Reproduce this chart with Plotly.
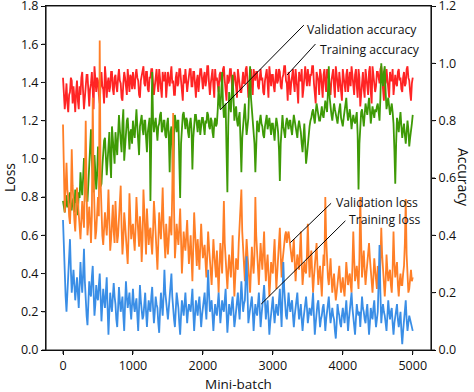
import plotly.graph_objects as go

# Mini-batch index (every 12.5 mini-batches, 401 samples)
mini_batch = [i * 12.5 for i in range(401)]

training_accuracy = [
    0.95, 0.90, 0.84, 0.88, 0.93, 0.86, 0.83, 0.89, 0.90, 0.95, 0.94, 0.86, 0.92, 0.88, 0.83, 0.90, 0.94, 0.87, 0.84, 0.92,
    0.89, 0.95, 0.97, 0.90, 0.84, 0.88, 0.92, 0.96, 0.96, 0.89, 0.85, 0.91, 0.93, 0.97, 0.88, 0.84, 0.99, 0.93, 0.90, 0.95,
    0.94, 0.89, 0.86, 0.93, 0.97, 0.92, 0.91, 0.86, 0.99, 0.95, 0.88, 0.93, 0.95, 0.90, 0.92, 0.97, 0.97, 0.91, 0.89, 0.95,
    0.96, 0.92, 0.90, 0.95, 0.98, 0.94, 0.93, 0.88, 0.87, 0.93, 0.97, 0.95, 0.92, 0.89, 0.98, 0.94, 0.90, 0.96, 0.95, 0.91,
    0.97, 0.93, 0.91, 0.96, 0.98, 0.95, 0.94, 0.89, 0.88, 0.94, 0.96, 0.98, 0.99, 0.93, 0.92, 0.97, 0.97, 0.91, 0.90, 0.95,
    0.95, 0.98, 0.98, 0.93, 0.89, 0.92, 0.96, 0.98, 0.93, 0.90, 0.98, 0.95, 0.91, 0.88, 0.97, 0.94, 0.94, 0.97, 0.88, 0.92,
    0.97, 0.94, 0.92, 0.96, 0.99, 0.93, 0.94, 0.89, 0.89, 0.95, 0.97, 0.92, 0.93, 0.98, 0.98, 0.94, 0.91, 0.87, 0.96, 0.93,
    0.98, 0.94, 0.90, 0.93, 0.95, 0.98, 0.98, 0.92, 0.92, 0.97, 0.97, 0.91, 0.88, 0.94, 0.96, 0.90, 0.93, 0.98, 0.98, 0.94,
    0.91, 0.95, 0.97, 0.92, 0.94, 0.99, 0.99, 0.93, 0.89, 0.93, 0.96, 0.98, 0.92, 0.88, 0.98, 0.94, 0.95, 0.91, 0.90, 0.96,
    0.97, 0.94, 0.93, 0.98, 0.99, 0.94, 0.91, 0.87, 0.96, 0.93, 0.94, 0.98, 0.98, 0.92, 0.89, 0.94, 0.97, 0.95, 0.92, 0.88,
    0.98, 0.95, 0.94, 0.90, 0.90, 0.95, 0.97, 0.93, 0.93, 0.98, 0.99, 0.94, 0.88, 0.91, 0.96, 0.98, 0.92, 0.89, 0.98, 0.95,
    0.94, 0.97, 0.97, 0.92, 0.91, 0.95, 0.98, 0.94, 0.95, 0.90, 0.89, 0.94, 0.97, 0.98, 0.93, 0.88, 0.99, 0.95, 0.92, 0.96,
    0.96, 0.92, 0.90, 0.95, 0.98, 0.93, 0.94, 0.98, 0.97, 0.92, 0.91, 0.95, 0.96, 0.99, 0.99, 0.94, 0.93, 0.87, 0.97, 0.94,
    0.89, 0.93, 0.96, 0.98, 0.93, 0.90, 0.98, 0.95, 0.91, 0.86, 0.97, 0.94, 0.94, 0.98, 0.88, 0.91, 0.97, 0.99, 0.95, 0.92,
    0.98, 0.94, 0.92, 0.96, 0.96, 0.99, 0.99, 0.93, 0.90, 0.86, 0.97, 0.95, 0.94, 0.89, 0.98, 0.96, 0.91, 0.88, 0.96, 0.98,
    0.93, 0.90, 0.98, 0.95, 0.95, 0.91, 0.89, 0.94, 0.97, 0.98, 0.92, 0.88, 0.99, 0.95, 0.94, 0.90, 0.97, 0.93, 0.91, 0.87,
    0.98, 0.95, 0.94, 0.90, 0.96, 0.98, 0.90, 0.94, 0.97, 0.92, 0.99, 0.96, 0.93, 0.89, 0.96, 0.98, 0.92, 0.88, 0.98, 0.95,
    0.85, 0.90, 0.95, 0.97, 0.91, 0.88, 0.98, 0.95, 0.94, 0.89, 0.97, 0.99, 0.90, 0.86, 0.99, 0.96, 0.95, 0.90, 0.92, 0.97,
    0.97, 0.94, 0.93, 0.98, 0.99, 0.95, 0.91, 0.87, 0.96, 0.93, 0.98, 0.95, 0.92, 0.88, 0.97, 0.94, 0.94, 0.98, 0.89, 0.92,
    0.96, 0.93, 0.92, 0.97, 0.98, 0.94, 0.95, 0.91, 0.90, 0.95, 0.97, 0.92, 0.93, 0.98, 0.99, 0.95, 0.94, 0.90, 0.87, 0.93,
    0.95,
]

validation_accuracy = [
    0.52, 0.49, 0.48, 0.51, 0.54, 0.50, 0.50, 0.53, 0.55, 0.49, 0.49, 0.52, 0.53, 0.48, 0.56, 0.52, 0.51, 0.47, 0.55, 0.53,
    0.62, 0.57, 0.54, 0.60, 0.67, 0.61, 0.58, 0.52, 0.52, 0.58, 0.64, 0.70, 0.77, 0.66, 0.60, 0.55, 0.68, 0.63, 0.56, 0.61,
    0.71, 0.66, 0.63, 0.57, 0.58, 0.64, 0.69, 0.73, 0.74, 0.67, 0.61, 0.66, 0.72, 0.76, 0.66, 0.60, 0.78, 0.73, 0.70, 0.65,
    0.76, 0.71, 0.68, 0.75, 0.82, 0.77, 0.73, 0.69, 0.79, 0.84, 0.66, 0.72, 0.75, 0.80, 0.81, 0.74, 0.70, 0.76, 0.77, 0.72,
    0.80, 0.76, 0.74, 0.79, 0.84, 0.78, 0.72, 0.68, 0.78, 0.81, 0.82, 0.77, 0.75, 0.80, 0.80, 0.74, 0.69, 0.76, 0.79, 0.81,
    0.52, 0.72, 0.97, 0.80, 0.76, 0.79, 0.81, 0.77, 0.73, 0.78, 0.79, 0.82, 0.83, 0.76, 0.77, 0.80, 0.80, 0.75, 0.74, 0.79,
    0.81, 0.74, 0.62, 0.76, 0.78, 0.70, 0.57, 0.75, 0.82, 0.79, 0.76, 0.80, 0.80, 0.66, 0.53, 0.72, 0.79, 0.82, 0.83, 0.78,
    0.77, 0.81, 0.80, 0.76, 0.74, 0.79, 0.81, 0.77, 0.63, 0.74, 0.79, 0.82, 0.82, 0.78, 0.76, 0.80, 0.80, 0.75, 0.78, 0.81,
    0.81, 0.77, 0.75, 0.80, 0.79, 0.83, 0.82, 0.78, 0.77, 0.81, 0.80, 0.76, 0.74, 0.79, 0.81, 0.78, 0.79, 0.84, 0.92, 0.86,
    0.84, 0.90, 0.97, 0.86, 0.81, 0.84, 0.86, 0.70, 0.55, 0.78, 0.90, 0.86, 0.83, 0.89, 0.96, 0.88, 0.80, 0.83, 0.85, 0.80,
    0.78, 0.81, 0.83, 0.73, 0.62, 0.74, 0.79, 0.84, 0.86, 0.80, 0.75, 0.78, 0.81, 0.92, 0.99, 0.88, 0.84, 0.80, 0.77, 0.72,
    0.62, 0.74, 0.80, 0.78, 0.76, 0.80, 0.82, 0.79, 0.78, 0.75, 0.74, 0.78, 0.80, 0.82, 0.77, 0.79, 0.81, 0.78, 0.75, 0.79,
    0.79, 0.76, 0.73, 0.78, 0.81, 0.79, 0.76, 0.70, 0.59, 0.72, 0.80, 0.82, 0.78, 0.76, 0.74, 0.79, 0.81, 0.79, 0.77, 0.80,
    0.80, 0.77, 0.75, 0.79, 0.82, 0.80, 0.78, 0.76, 0.74, 0.78, 0.80, 0.78, 0.76, 0.72, 0.69, 0.74, 0.79, 0.72, 0.65, 0.68,
    0.72, 0.76, 0.78, 0.80, 0.81, 0.83, 0.84, 0.81, 0.79, 0.83, 0.86, 0.84, 0.82, 0.80, 0.80, 0.83, 0.85, 0.82, 0.81, 0.84,
    0.87, 0.85, 0.83, 0.90, 0.99, 0.88, 0.84, 0.82, 0.80, 0.83, 0.86, 0.84, 0.82, 0.80, 0.79, 0.82, 0.84, 0.86, 0.81, 0.79,
    0.78, 0.81, 0.83, 0.86, 0.88, 0.83, 0.80, 0.82, 0.84, 0.81, 0.77, 0.80, 0.82, 0.80, 0.79, 0.81, 0.83, 0.75, 0.56, 0.72,
    0.80, 0.83, 0.84, 0.81, 0.78, 0.82, 0.86, 0.84, 0.82, 0.85, 0.88, 0.84, 0.79, 0.82, 0.85, 0.83, 0.81, 0.84, 0.83, 0.85,
    0.86, 0.83, 0.80, 0.88, 1.00, 0.95, 0.92, 0.97, 0.99, 0.90, 0.84, 0.86, 0.88, 0.85, 0.82, 0.84, 0.86, 0.83, 0.79, 0.70,
    0.58, 0.72, 0.81, 0.79, 0.76, 0.80, 0.83, 0.78, 0.74, 0.77, 0.79, 0.75, 0.72, 0.76, 0.80, 0.77, 0.71, 0.74, 0.76, 0.79,
    0.82,
]

validation_loss = [
    1.18, 0.90, 0.72, 0.85, 0.98, 0.84, 0.80, 0.70, 0.66, 0.78, 1.05, 0.86, 0.74, 0.68, 0.62, 0.72, 0.85, 0.78, 0.70, 0.64,
    0.58, 0.68, 0.78, 0.70, 0.64, 0.88, 1.20, 0.84, 0.60, 0.66, 0.75, 0.68, 0.56, 0.70, 1.32, 0.90, 0.68, 0.58, 0.62, 0.74,
    0.80, 0.70, 1.62, 0.88, 0.66, 0.60, 0.55, 0.64, 0.72, 0.66, 0.60, 0.70, 0.84, 0.68, 0.52, 0.58, 0.70, 0.76, 0.62, 0.56,
    0.78, 0.66, 0.56, 0.60, 0.68, 0.74, 0.86, 0.64, 0.50, 0.58, 0.72, 0.66, 0.60, 0.52, 0.45, 0.60, 0.82, 0.70, 0.58, 0.64,
    0.66, 0.58, 0.52, 0.64, 0.80, 0.70, 0.60, 0.54, 0.70, 0.62, 0.46, 0.58, 0.84, 0.72, 0.58, 0.50, 0.74, 0.66, 0.55, 0.62,
    0.64, 0.56, 0.50, 0.62, 0.78, 0.70, 0.62, 0.52, 0.42, 0.56, 0.72, 0.64, 0.58, 0.70, 0.85, 0.66, 0.54, 0.48, 0.66, 0.58,
    0.50, 0.58, 0.70, 0.64, 0.60, 0.84, 1.24, 0.74, 0.48, 0.56, 0.66, 0.60, 0.55, 0.64, 0.74, 0.58, 0.40, 0.50, 0.62, 0.56,
    0.52, 0.60, 0.68, 0.56, 0.45, 0.52, 0.60, 0.48, 0.36, 0.54, 0.72, 0.62, 0.50, 0.44, 0.58, 0.50, 0.42, 0.54, 0.66, 0.56,
    0.48, 0.52, 0.55, 0.46, 0.38, 0.50, 0.62, 0.54, 0.46, 0.40, 0.34, 0.46, 0.58, 0.50, 0.44, 0.38, 0.52, 0.42, 0.30, 0.44,
    0.56, 0.48, 0.40, 0.58, 0.78, 0.56, 0.45, 0.38, 0.32, 0.42, 0.50, 0.44, 0.38, 0.48, 0.60, 0.42, 0.28, 0.38, 0.48, 0.44,
    0.42, 0.56, 0.66, 0.78, 0.84, 0.62, 0.52, 0.44, 0.36, 0.48, 0.58, 0.50, 0.44, 0.36, 0.30, 0.42, 0.54, 0.46, 0.40, 0.50,
    0.80, 0.60, 0.48, 0.40, 0.34, 0.46, 0.56, 0.48, 0.42, 0.52, 0.62, 0.46, 0.36, 0.44, 0.50, 0.40, 0.28, 0.36, 0.46, 0.42,
    0.40, 0.50, 0.58, 0.44, 0.32, 0.40, 0.48, 0.56, 0.64, 0.50, 0.38, 0.46, 0.52, 0.58, 0.60, 0.62, 0.56, 0.60, 0.62, 0.58,
    0.54, 0.48, 0.46, 0.52, 0.58, 0.46, 0.36, 0.44, 0.50, 0.46, 0.42, 0.52, 0.62, 0.46, 0.34, 0.40, 0.46, 0.42, 0.40, 0.50,
    0.66, 0.50, 0.38, 0.46, 0.52, 0.40, 0.30, 0.38, 0.46, 0.52, 0.56, 0.44, 0.34, 0.40, 0.44, 0.36, 0.28, 0.40, 0.50, 0.44,
    0.80, 0.58, 0.42, 0.38, 0.34, 0.42, 0.48, 0.38, 0.30, 0.36, 0.40, 0.32, 0.26, 0.30, 0.36, 0.40, 0.44, 0.36, 0.30, 0.34,
    0.38, 0.32, 0.28, 0.36, 0.46, 0.40, 0.34, 0.38, 0.40, 0.34, 0.30, 0.44, 0.62, 0.48, 0.36, 0.40, 0.44, 0.38, 0.32, 0.48,
    0.80, 0.56, 0.38, 0.46, 0.52, 0.42, 0.34, 0.40, 0.46, 0.52, 0.56, 0.48, 0.40, 0.34, 0.30, 0.38, 0.48, 0.42, 0.36, 0.32,
    0.44, 0.38, 0.32, 0.46, 0.64, 0.50, 0.40, 0.34, 0.28, 0.36, 0.50, 0.42, 0.36, 0.40, 0.42, 0.34, 0.30, 0.42, 0.62, 0.46,
    0.38, 0.42, 0.46, 0.34, 0.28, 0.36, 0.40, 0.34, 0.34, 0.40, 0.44, 0.56, 0.79, 0.50, 0.36, 0.30, 0.32, 0.40, 0.42, 0.36,
    0.38,
]

training_loss = [
    0.68, 0.52, 0.40, 0.28, 0.20, 0.30, 0.36, 0.44, 0.58, 0.42, 0.30, 0.36, 0.42, 0.34, 0.26, 0.32, 0.38, 0.30, 0.22, 0.34,
    0.46, 0.36, 0.30, 0.40, 0.53, 0.36, 0.24, 0.18, 0.13, 0.26, 0.36, 0.30, 0.28, 0.38, 0.44, 0.30, 0.18, 0.24, 0.34, 0.28,
    0.26, 0.34, 0.40, 0.28, 0.15, 0.24, 0.32, 0.26, 0.22, 0.30, 0.38, 0.22, 0.08, 0.20, 0.30, 0.24, 0.20, 0.28, 0.35, 0.28,
    0.24, 0.16, 0.12, 0.22, 0.33, 0.26, 0.20, 0.24, 0.28, 0.18, 0.10, 0.24, 0.36, 0.28, 0.22, 0.26, 0.30, 0.22, 0.16, 0.24,
    0.32, 0.24, 0.20, 0.24, 0.27, 0.18, 0.10, 0.22, 0.34, 0.26, 0.22, 0.16, 0.18, 0.26, 0.30, 0.20, 0.12, 0.20, 0.26, 0.22,
    0.20, 0.28, 0.33, 0.22, 0.14, 0.20, 0.28, 0.24, 0.22, 0.14, 0.09, 0.20, 0.30, 0.24, 0.18, 0.28, 0.42, 0.30, 0.24, 0.18,
    0.16, 0.22, 0.28, 0.34, 0.40, 0.28, 0.20, 0.16, 0.12, 0.22, 0.30, 0.26, 0.22, 0.14, 0.08, 0.18, 0.26, 0.22, 0.18, 0.24,
    0.30, 0.22, 0.14, 0.20, 0.24, 0.22, 0.20, 0.26, 0.32, 0.20, 0.10, 0.18, 0.26, 0.22, 0.18, 0.24, 0.28, 0.20, 0.12, 0.18,
    0.22, 0.26, 0.30, 0.22, 0.16, 0.28, 0.42, 0.30, 0.20, 0.24, 0.26, 0.18, 0.10, 0.18, 0.24, 0.20, 0.18, 0.24, 0.30, 0.22,
    0.14, 0.20, 0.26, 0.22, 0.20, 0.26, 0.32, 0.20, 0.09, 0.16, 0.24, 0.20, 0.18, 0.24, 0.28, 0.20, 0.12, 0.16, 0.22, 0.26,
    0.30, 0.22, 0.16, 0.26, 0.36, 0.28, 0.20, 0.24, 0.26, 0.38, 0.49, 0.30, 0.14, 0.18, 0.22, 0.26, 0.28, 0.20, 0.10, 0.18,
    0.24, 0.20, 0.18, 0.24, 0.30, 0.22, 0.12, 0.18, 0.22, 0.28, 0.34, 0.24, 0.16, 0.22, 0.26, 0.18, 0.08, 0.14, 0.20, 0.24,
    0.28, 0.20, 0.14, 0.20, 0.24, 0.20, 0.18, 0.26, 0.32, 0.22, 0.12, 0.28, 0.46, 0.32, 0.22, 0.18, 0.16, 0.22, 0.30, 0.24,
    0.20, 0.24, 0.26, 0.18, 0.12, 0.18, 0.22, 0.26, 0.30, 0.22, 0.16, 0.20, 0.24, 0.16, 0.10, 0.16, 0.20, 0.24, 0.28, 0.22,
    0.14, 0.18, 0.22, 0.20, 0.18, 0.24, 0.30, 0.18, 0.08, 0.14, 0.20, 0.24, 0.26, 0.18, 0.12, 0.16, 0.18, 0.22, 0.24, 0.18,
    0.10, 0.16, 0.20, 0.24, 0.28, 0.20, 0.14, 0.18, 0.22, 0.18, 0.16, 0.10, 0.06, 0.14, 0.24, 0.20, 0.18, 0.14, 0.12, 0.18,
    0.22, 0.18, 0.14, 0.20, 0.26, 0.18, 0.10, 0.16, 0.20, 0.26, 0.30, 0.22, 0.16, 0.12, 0.08, 0.16, 0.24, 0.20, 0.18, 0.20,
    0.12, 0.20, 0.28, 0.22, 0.20, 0.16, 0.14, 0.20, 0.24, 0.16, 0.08, 0.14, 0.22, 0.18, 0.16, 0.22, 0.26, 0.18, 0.12, 0.16,
    0.20, 0.36, 0.55, 0.30, 0.14, 0.20, 0.24, 0.20, 0.18, 0.14, 0.10, 0.18, 0.26, 0.20, 0.16, 0.20, 0.22, 0.14, 0.08, 0.14,
    0.18, 0.22, 0.24, 0.16, 0.12, 0.16, 0.20, 0.10, 0.03, 0.10, 0.16, 0.22, 0.26, 0.16, 0.10, 0.14, 0.18, 0.16, 0.14, 0.12,
    0.10,
]

loss_ticks = [0.0, 0.2, 0.4, 0.6, 0.8, 1.0, 1.2, 1.4, 1.6, 1.8]
acc_ticks = [0.0, 0.2, 0.4, 0.6, 0.8, 1.0, 1.2]
x_ticks = [0, 1000, 2000, 3000, 4000, 5000]

for s in (training_accuracy, validation_accuracy, validation_loss, training_loss):
    assert len(s) == len(mini_batch), len(s)

RED = "#ff2424"
GREEN = "#3e9a06"
ORANGE = "#ff7f27"
BLUE = "#3a8ee6"
FONT = "Open Sans"
LW = 1.8
W, H = 474, 392
ML, MR, MT, MB = 46, 43, 6, 42
PW, PH = W - ML - MR, H - MT - MB
TICK = 4  # tick length in px

fig = go.Figure()
# accuracy on primary y (right side), loss on y2 (left side, drawn on top)
fig.add_trace(go.Scatter(x=mini_batch, y=training_accuracy, mode="lines",
                         line=dict(color=RED, width=LW), yaxis="y", name="Training accuracy"))
fig.add_trace(go.Scatter(x=mini_batch, y=validation_accuracy, mode="lines",
                         line=dict(color=GREEN, width=LW), yaxis="y", name="Validation accuracy"))
fig.add_trace(go.Scatter(x=mini_batch, y=validation_loss, mode="lines",
                         line=dict(color=ORANGE, width=LW), yaxis="y2", name="Validation loss"))
fig.add_trace(go.Scatter(x=mini_batch, y=training_loss, mode="lines",
                         line=dict(color=BLUE, width=LW), yaxis="y2", name="Training loss"))

tickfont = dict(family=FONT, size=12.5, color="#111")
titlefont = dict(family=FONT, size=14, color="#111")
axis_common = dict(ticks="outside", ticklen=TICK, tickcolor="black", tickwidth=1,
                   showline=True, linecolor="black", linewidth=1,
                   showgrid=False, zeroline=False, tickfont=tickfont,
                   ticklabeloverflow="allow")

fig.update_layout(
    width=W, height=H,
    margin=dict(l=ML, r=MR, t=MT, b=MB, autoexpand=False),
    paper_bgcolor="white", plot_bgcolor="white",
    showlegend=False,
    xaxis=dict(range=[-243, 5261], tickvals=x_ticks, mirror=True, **axis_common),
    yaxis=dict(range=[0, 1.20008], tickvals=acc_ticks, tickformat=".1f", side="right",
               **axis_common),
    yaxis2=dict(range=[0, 1.80012], tickvals=loss_ticks, tickformat=".1f", side="left",
                overlaying="y", **axis_common),
)

# plot frame
fig.add_shape(type="rect", xref="paper", yref="paper", x0=0, y0=0, x1=1, y1=1,
              line=dict(color="#222", width=1.2), layer="above")

# tick marks (outside), placed through the axes' own scales
tick_line = dict(color="#222", width=1)
for v in x_ticks:
    fig.add_shape(type="line", xref="x", yref="paper", x0=v, x1=v,
                  y0=0, y1=-TICK / PH, line=tick_line)
for v in loss_ticks:
    fig.add_shape(type="line", xref="paper", yref="y2", x0=0, x1=-TICK / PW,
                  y0=v, y1=v, line=tick_line)
for v in acc_ticks:
    fig.add_shape(type="line", xref="paper", yref="y", x0=1, x1=1 + TICK / PW,
                  y0=v, y1=v, line=tick_line)

# axis titles
fig.add_annotation(xref="paper", yref="paper", x=-0.096, y=0.5, text="Loss",
                   textangle=-90, showarrow=False, xanchor="center", yanchor="middle",
                   font=titlefont)
fig.add_annotation(xref="paper", yref="paper", x=1.0857, y=0.5, text="Accuracy",
                   textangle=90, showarrow=False, xanchor="center", yanchor="middle",
                   font=titlefont)
fig.add_annotation(xref="paper", yref="paper", x=0.5, y=-0.099, text="Mini-batch",
                   showarrow=False, xanchor="center", yanchor="middle",
                   font=dict(family=FONT, size=13.5, color="#111"))

# callout lines (loss-axis coordinates) and labels
callouts = [
    ("Validation accuracy", 3443, 1.700, 2247, 1.256, 3455, 1.678),
    ("Training accuracy", 3609, 1.601, 3204, 1.439, 3650, 1.574),
    ("Validation loss", 3833, 0.768, 3251, 0.562, 3870, 0.770),
    ("Training loss", 4037, 0.676, 2833, 0.240, 4060, 0.681),
]
for text, x0, y0, x1, y1, tx, ty in callouts:
    fig.add_shape(type="line", xref="x", yref="y2", x0=x0, y0=y0, x1=x1, y1=y1,
                  line=dict(color="black", width=1))
    fig.add_annotation(xref="x", yref="y2", x=tx, y=ty, text=text, showarrow=False,
                       xanchor="left", yanchor="middle",
                       font=dict(family=FONT, size=12.2, color="#111"))

fig.write_html("out.html", config={"displayModeBar": False},
               post_script="document.body.style.margin='0';")
